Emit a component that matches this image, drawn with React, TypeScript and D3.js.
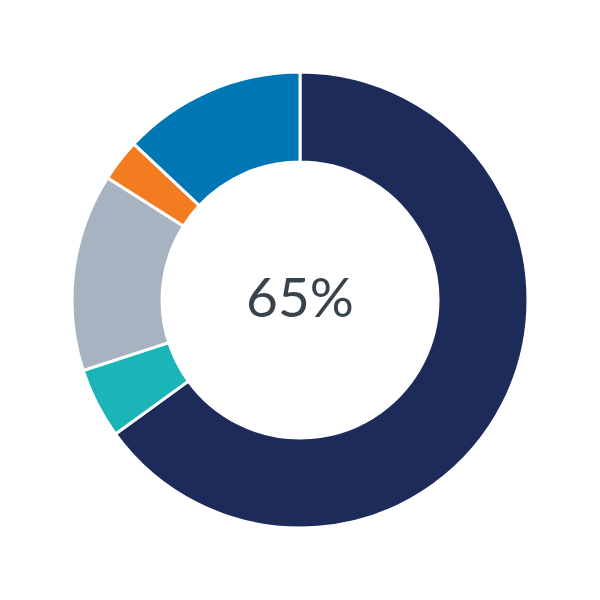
import { useRef, useEffect } from 'react';
import * as d3 from 'd3';

const categories = ['A', 'B', 'C', 'D', 'E'];
const values = [65, 5, 14, 3, 13];
const colors = ['#1c2b59', '#1bb5b8', '#a8b3c1', '#f47c20', '#0077b5'];
const centerLabel = '65%';

export default function App() {
    const svgRef = useRef<SVGSVGElement>(null);

    useEffect(() => {
        if (!svgRef.current) return;
        const svg = d3.select(svgRef.current);
        svg.selectAll('*').remove();

        const width = 600;
        const height = 600;
        const outer = 228;
        const inner = 138;

        const g = svg.append('g').attr('transform', `translate(${width / 2},${height / 2})`);

        const pie = d3.pie<number>().sort(null).value(d => d);
        const arc = d3.arc<d3.PieArcDatum<number>>().innerRadius(inner).outerRadius(outer);

        g.selectAll('path')
            .data(pie(values))
            .enter().append('path')
            .attr('d', arc)
            .attr('fill', (_, i) => colors[i])
            .attr('stroke', '#ffffff')
            .attr('stroke-width', 3)
            .attr('data-cat', (_, i) => categories[i]);

        g.append('text')
            .attr('x', 0)
            .attr('y', 17)
            .attr('text-anchor', 'middle')
            .attr('font-family', 'Lato, sans-serif')
            .attr('font-size', '55px')
            .attr('fill', '#3a434c')
            .text(centerLabel);
    }, []);

    return (
        <svg
            ref={svgRef}
            width={600}
            height={600}
            style={{ position: 'absolute', left: 0, top: 0, background: '#ffffff' }}
        />
    );
}
